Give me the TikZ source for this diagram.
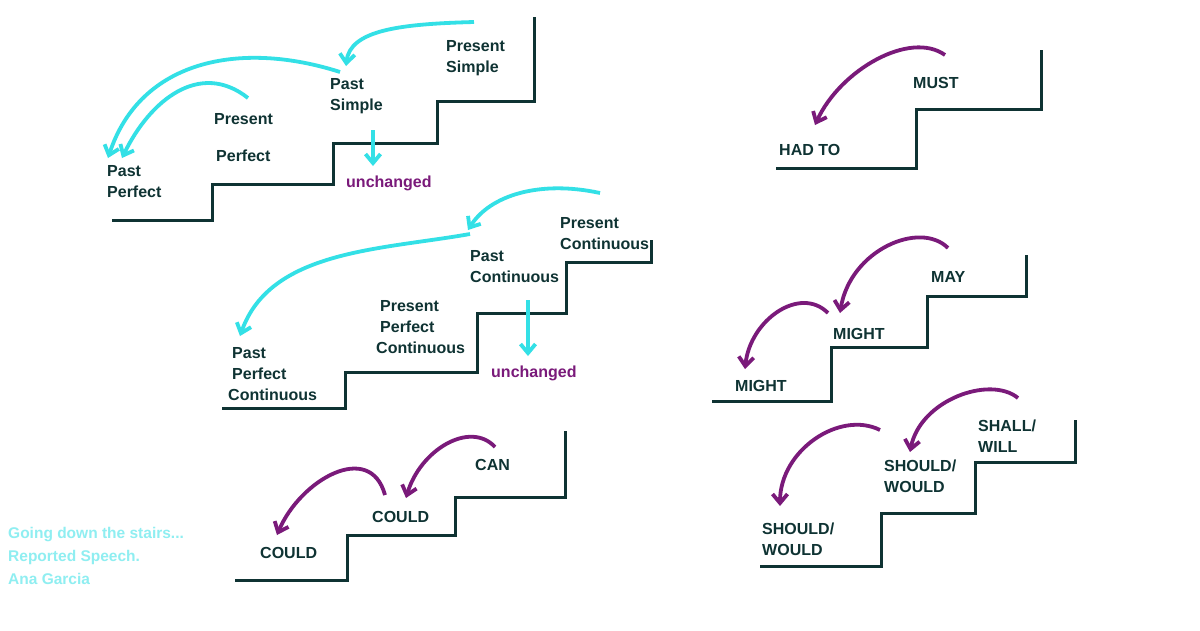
\documentclass[tikz,border=0pt]{standalone}
\usepackage{fontspec}
\setmainfont{Liberation Sans}
\usetikzlibrary{arrows.meta}
\definecolor{cyn}{HTML}{33E0E6}
\definecolor{pur}{HTML}{7A1A7A}
\definecolor{ink}{HTML}{0F3333}
\begin{document}
\begin{tikzpicture}[x=1pt,y=-1pt,
 stair/.style={line width=3pt,color=ink},
 lab/.style={anchor=west,font=\bfseries\fontsize{16}{20}\selectfont,text=ink,align=left,inner sep=0pt},
 cy/.style={line width=3.8pt,color=cyn,-{Straight Barb[length=9pt,width=15pt]}},
 pu/.style={line width=3.8pt,color=pur,-{Straight Barb[length=9pt,width=15pt]}},
 unch/.style={anchor=west,font=\bfseries\fontsize{16}{20}\selectfont,text=pur,inner sep=0pt}]
\useasboundingbox[fill=white] (0,0) rectangle (1200,630);
% stairs 1
\draw[stair] (112,220)--(212,220)--(212,184)--(333,184)--(333,143)--(437,143)--(437,101)--(534,101)--(534,17);
\node[lab] (pp) at (107,182) {Past\\[1pt]Perfect};
\node[lab] (prp1) at (214,119) {Present};
\node[lab] (prp2) at (216,156) {Perfect};
\node[lab] (ps) at (330,96) {Past\\[1pt]Simple};
\node[lab] (prs) at (446,58) {Present\\[1pt]Simple};
\node[unch] (u1) at (346,183) {unchanged};
\coordinate (a1) at (474,22); \coordinate (a2) at (346,66);
\coordinate (b1) at (340,72); \coordinate (b2) at (108,158);
\coordinate (c1) at (248,98); \coordinate (c2) at (122,158);
\coordinate (d1) at (373,130); \coordinate (d2) at (373,166);
\draw[cy] (a1) .. controls (400,24) and (350,30) .. (a2);
\draw[cy] (b1) .. controls (240,40) and (140,60) .. (b2);
\draw[cy] (c1) .. controls (200,60) and (150,100) .. (c2);
\draw[cy] (d1) -- (d2);
% stairs 2
\draw[stair] (222,408)--(345,408)--(345,372)--(477,372)--(477,313)--(566,313)--(566,262)--(651,262)--(651,240);
\node[lab] (prc) at (560,234) {Present\\[1pt]Continuous};
\node[lab] (pc) at (470,267) {Past\\[1pt]Continuous};
\node[lab] (ppc) at (376,327) {\hspace{4pt}Present\\[1pt]\hspace{4pt}Perfect\\[1pt]Continuous};
\node[lab] (papc) at (228,374) {\hspace{4pt}Past\\[1pt]\hspace{4pt}Perfect\\[1pt]Continuous};
\node[unch] (u2) at (491,373) {unchanged};
\coordinate (e1) at (600,193); \coordinate (e2) at (468,230);
\coordinate (f1) at (470,234); \coordinate (f2) at (240,336);
\coordinate (g1) at (528,300); \coordinate (g2) at (528,356);
\draw[cy] (e1) .. controls (540,180) and (490,195) .. (e2);
\draw[cy] (f1) .. controls (380,250) and (270,250) .. (f2);
\draw[cy] (g1) -- (g2);
% stairs 3
\draw[stair] (235,580)--(347,580)--(347,535)--(455,535)--(455,497)--(565,497)--(565,431);
\node[lab] (can) at (475,465) {CAN};
\node[lab] (cd1) at (372,517) {COULD};
\node[lab] (cd2) at (260,553) {COULD};
\coordinate (h1) at (495,447); \coordinate (h2) at (406,498);
\coordinate (i1) at (385,495); \coordinate (i2) at (277,535);
\draw[pu] (h1) .. controls (470,420) and (420,450) .. (h2);
\draw[pu] (i1) .. controls (370,440) and (300,480) .. (i2);
% right 1
\draw[stair] (776,168)--(916,168)--(916,109)--(1041,109)--(1041,50);
\node[lab] (must) at (913,83) {MUST};
\node[lab] (had) at (779,150) {HAD TO};
\coordinate (j1) at (945,55); \coordinate (j2) at (815,125);
\draw[pu] (j1) .. controls (910,30) and (840,70) .. (j2);
% right 2
\draw[stair] (712,401)--(831,401)--(831,347)--(927,347)--(927,296)--(1026,296)--(1026,255);
\node[lab] (may) at (931,277) {MAY};
\node[lab] (mi1) at (833,334) {MIGHT};
\node[lab] (mi2) at (735,386) {MIGHT};
\coordinate (k1) at (948,248); \coordinate (k2) at (840,313);
\coordinate (l1) at (828,313); \coordinate (l2) at (745,369);
\draw[pu] (k1) .. controls (920,220) and (850,250) .. (k2);
\draw[pu] (l1) .. controls (800,285) and (750,320) .. (l2);
% right 3
\draw[stair] (760,566)--(881,566)--(881,513)--(975,513)--(975,462)--(1075,462)--(1075,420);
\node[lab] (sw) at (978,436) {SHALL/\\[1pt]WILL};
\node[lab] (sh1) at (884,476) {SHOULD/\\[1pt]WOULD};
\node[lab] (sh2) at (762,539) {SHOULD/\\[1pt]WOULD};
\coordinate (m1) at (1018,398); \coordinate (m2) at (910,452);
\coordinate (n1) at (880,430); \coordinate (n2) at (780,506);
\draw[pu] (m1) .. controls (990,375) and (920,400) .. (m2);
\draw[pu] (n1) .. controls (840,410) and (780,450) .. (n2);
% caption
\node[anchor=west,font=\bfseries\fontsize{15.5}{23}\selectfont,text=cyn!55!white,align=left,inner sep=0pt] (cap) at (8,556) {Going down the stairs...\\Reported Speech.\\Ana Garcia};
\end{tikzpicture}
\end{document}
